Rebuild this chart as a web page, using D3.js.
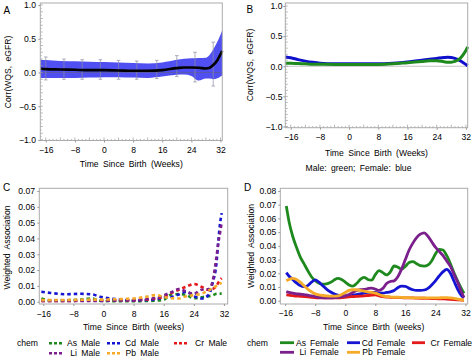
<!DOCTYPE html>
<html><head><meta charset="utf-8">
<script src="https://cdn.jsdelivr.net/npm/d3@7"></script>
<style>
body{margin:0;background:#fff}
svg{display:block}
text{font-family:"Liberation Sans",Arial,sans-serif;fill:#000}
</style>
</head><body>
<svg id="c" width="474" height="360"></svg>
<script>
// ---------- DATA ----------
const xTickLabels = [-16, -8, 0, 8, 16, 24, 32];
const corrTicks = [-1.0, -0.5, 0.0, 0.5, 1.0];
const assocTicksC = [0, 0.01, 0.02, 0.03, 0.04, 0.05, 0.06, 0.07];
const assocTicksD = [0, 0.01, 0.02, 0.03, 0.04, 0.05, 0.06, 0.07, 0.08];

// Panel A: overall correlation with band
const weeksA = [-17.5,-16,-12,-8,-4,0,4,8,12,16,20,22,24,26,28,29,30,31,32,32.5];
const meanA  = [0.055,0.05,0.045,0.04,0.035,0.035,0.03,0.025,0.025,0.035,0.065,0.075,0.075,0.07,0.06,0.07,0.11,0.17,0.27,0.32];
const upperA = [0.19,0.185,0.17,0.165,0.16,0.155,0.15,0.14,0.135,0.15,0.19,0.205,0.21,0.215,0.22,0.26,0.34,0.44,0.56,0.63];
const lowerA = [-0.08,-0.08,-0.08,-0.08,-0.075,-0.07,-0.07,-0.075,-0.08,-0.06,-0.035,-0.03,-0.05,-0.12,-0.09,-0.09,-0.1,-0.09,-0.06,-0.04];
const errWeeksA = [-16,-11,-6,-1,4,9,14.5,20,25,30];
const errHighA  = [0.23,0.2,0.19,0.19,0.18,0.17,0.18,0.25,0.3,0.45];
const errLowA   = [-0.11,-0.1,-0.1,-0.1,-0.1,-0.1,-0.09,-0.06,-0.14,-0.2];

// Panel B: by sex
const weeksB  = [-17.5,-16,-14,-12,-10,-8,-4,0,4,8,12,16,20,22,24,26,27,28,29,30,31,32,32.5];
const femaleB = [0.155,0.14,0.11,0.085,0.065,0.05,0.04,0.04,0.04,0.04,0.05,0.07,0.1,0.115,0.13,0.145,0.15,0.145,0.13,0.105,0.07,0.03,0.01];
const maleB   = [0.05,0.05,0.045,0.04,0.035,0.035,0.03,0.03,0.03,0.03,0.04,0.06,0.08,0.09,0.09,0.075,0.068,0.068,0.08,0.11,0.17,0.26,0.32];

// Panel C: male weighted associations
const weeksC = [-16.5,-14,-10,-6,-3,-1,2,5,8,11,14,16,18,20,22,24,26,28,29,30,30.5,31,31.4];
const asMale = [0.0021,0.0008,0.0009,0.0013,0.0021,0.0006,0.0004,0.0003,0.0003,0.0004,0.0007,0.0012,0.0045,0.0048,0.0042,0.0022,0.0028,0.0035,0.004,0.005,0.0051,0.0051,0.0051];
const cdMale = [0.0063,0.0055,0.0047,0.005,0.0046,0.0032,0.002,0.0012,0.0007,0.001,0.0015,0.0028,0.003,0.0045,0.0063,0.0035,0.002,0.0044,0.012,0.024,0.038,0.05,0.056];
const crMale = [0.0005,0.0005,0.0005,0.0006,0.0007,0.0008,0.0008,0.0009,0.001,0.0012,0.0022,0.003,0.0055,0.0075,0.0095,0.0112,0.0095,0.0075,0.008,0.01,0.012,0.0138,0.0148];
const liMale = [0.0005,0.0004,0.0004,0.0005,0.0005,0.0005,0.0006,0.0008,0.001,0.0015,0.0025,0.004,0.006,0.008,0.0065,0.005,0.0075,0.008,0.013,0.028,0.037,0.044,0.05];
const pbMale = [0.001,0.001,0.0011,0.0012,0.0013,0.0013,0.0015,0.0017,0.002,0.003,0.0042,0.003,0.0022,0.002,0.0035,0.0042,0.005,0.0072,0.0085,0.01,0.0108,0.0114,0.0118];

// Panel D: female weighted associations
const weeksD = [-15.7,-15,-14,-13,-12,-11,-10,-9,-8,-7,-6,-5,-4,-3,-2,-1,0,1,2,3,4,5,6,7,8,9,10,11,12,13,14,15,16,17,18,19,20,21,22,23,24,25,26,27,28,29,30,31,31.6];
const asFemale = [0.069,0.058,0.047,0.039,0.032,0.027,0.022,0.0175,0.0145,0.0127,0.012,0.0122,0.0132,0.015,0.0163,0.0155,0.0135,0.0115,0.0107,0.0125,0.0155,0.017,0.0155,0.015,0.019,0.022,0.0205,0.0188,0.021,0.0253,0.0245,0.023,0.025,0.0278,0.0285,0.027,0.0255,0.0252,0.026,0.029,0.034,0.0375,0.037,0.033,0.027,0.02,0.014,0.0085,0.0054];
const cdFemale = [0.0205,0.018,0.0155,0.013,0.011,0.0102,0.011,0.0135,0.0152,0.0135,0.011,0.0085,0.0065,0.005,0.004,0.0035,0.0035,0.0035,0.004,0.0045,0.005,0.0055,0.006,0.006,0.006,0.0055,0.0055,0.006,0.0065,0.0075,0.0095,0.0107,0.0105,0.009,0.008,0.0075,0.0075,0.0078,0.009,0.0115,0.0145,0.018,0.021,0.0228,0.02,0.014,0.008,0.0035,0.002];
const crFemale = [0.0042,0.004,0.0037,0.0034,0.0032,0.003,0.0028,0.0025,0.0022,0.002,0.002,0.002,0.002,0.002,0.002,0.0022,0.0025,0.0028,0.003,0.0032,0.0033,0.0035,0.0038,0.004,0.0042,0.0035,0.003,0.0027,0.0025,0.0023,0.0022,0.0022,0.002,0.002,0.002,0.0019,0.0018,0.0018,0.0017,0.0016,0.0015,0.0014,0.0013,0.0012,0.001,0.0008,0.0006,0.0004,0.0003];
const liFemale = [0.0066,0.006,0.0055,0.005,0.0048,0.0045,0.004,0.0035,0.003,0.0025,0.0022,0.002,0.002,0.0022,0.0025,0.003,0.0035,0.0045,0.006,0.0075,0.008,0.0082,0.0088,0.0092,0.0085,0.0075,0.009,0.0125,0.014,0.0145,0.0175,0.023,0.03,0.037,0.042,0.046,0.0485,0.0495,0.047,0.043,0.039,0.036,0.033,0.029,0.025,0.019,0.013,0.006,0.0025];
const pbFemale = [0.0145,0.0155,0.0163,0.0155,0.0135,0.011,0.0085,0.0065,0.005,0.0042,0.0038,0.0035,0.0033,0.0033,0.0035,0.0045,0.006,0.0075,0.008,0.008,0.0075,0.007,0.0065,0.006,0.0055,0.0045,0.0035,0.003,0.0028,0.0025,0.0025,0.0024,0.0023,0.0022,0.0021,0.002,0.002,0.002,0.002,0.002,0.002,0.0021,0.0022,0.0022,0.002,0.0017,0.0012,0.0007,0.0005];

const seriesC = [
  {name:"As Male", vals:asMale, color:"#1e8a1e"},
  {name:"Cd Male", vals:cdMale, color:"#1414d2"},
  {name:"Cr Male", vals:crMale, color:"#e41a1a"},
  {name:"Li Male", vals:liMale, color:"#7a1f8c"},
  {name:"Pb Male", vals:pbMale, color:"#f5aa28"}
];
const seriesD = [
  {name:"As Female", vals:asFemale, color:"#1e8a1e"},
  {name:"Cd Female", vals:cdFemale, color:"#1414d2"},
  {name:"Cr Female", vals:crFemale, color:"#e41a1a"},
  {name:"Li Female", vals:liFemale, color:"#7a1f8c"},
  {name:"Pb Female", vals:pbFemale, color:"#f5aa28"}
];

// ---------- DRAW ----------
const svg = d3.select("#c");
const FS = 8.6;
const LFS = 8.6;
const fmtX = d3.format("d");

function frameAxes(cfg, x, y) {
  const g = svg.append("g");
  if (cfg.minor) {
    const xm = d3.range(Math.ceil(x.domain()[0]), Math.floor(x.domain()[1]) + 1);
    g.selectAll(".mx").data(xm).join("line")
      .attr("x1", d => x(d)).attr("x2", d => x(d))
      .attr("y1", cfg.y1).attr("y2", d => cfg.y1 - (d % 4 === 0 ? 3 : 1.6))
      .attr("stroke", "#999").attr("stroke-width", 0.7);
    const ym = d3.range(-1, 1.0001, 0.05);
    g.selectAll(".my").data(ym).join("line")
      .attr("x1", cfg.x0).attr("x2", d => cfg.x0 + (Math.abs(Math.round(d*10) - d*10) < 1e-6 ? 2.5 : 1.4))
      .attr("y1", d => y(d)).attr("y2", d => y(d))
      .attr("stroke", "#999").attr("stroke-width", 0.7);
  }
  g.append("rect").attr("x", cfg.x0).attr("y", cfg.y0)
    .attr("width", cfg.x1 - cfg.x0).attr("height", cfg.y1 - cfg.y0)
    .attr("fill", "none").attr("stroke", "#ababab").attr("stroke-width", 1);

  const xa = g.append("g").attr("transform", `translate(0,${cfg.y1})`)
    .call(d3.axisBottom(x).tickValues(xTickLabels).tickFormat(fmtX).tickSize(2).tickPadding(cfg.xLabelC - cfg.y1 - 3.1 - 2));
  xa.select(".domain").remove();
  xa.selectAll("line").attr("stroke", "#999");
  xa.selectAll("text").attr("font-size", FS);
  xa.attr("font-family", null);

  const ya = g.append("g").attr("transform", `translate(${cfg.x0},0)`)
    .call(d3.axisLeft(y).tickValues(cfg.yTicks).tickFormat(cfg.yFmt).tickSize(2).tickPadding(cfg.x0 - cfg.yLabelEnd - 2));
  ya.select(".domain").remove();
  ya.selectAll("line").attr("stroke", "#999");
  ya.selectAll("text").attr("font-size", FS);
  ya.attr("font-family", null);

  svg.append("text").attr("x", cfg.xTitle[0]).attr("y", cfg.xTitle[1]).attr("dy", "0.35em")
    .attr("text-anchor", "middle").attr("font-size", FS).attr("word-spacing", 2)
    .text(cfg.xTitleText);
  svg.append("text").attr("transform", `translate(${cfg.yTitle[0]},${cfg.yTitle[1]}) rotate(-90)`)
    .attr("dy", "0.35em").attr("text-anchor", "middle").attr("font-size", FS).attr("word-spacing", 2)
    .text(cfg.yTitleText);
  svg.append("text").attr("x", cfg.letter[0]).attr("y", cfg.letter[1]).attr("dy", "0.35em")
    .attr("font-size", 10).text(cfg.letterText);
}

// Panel A
(function(){
  const cfg = {x0:40.3, x1:222.3, y0:3, y1:140.5, xLabelC:150, yLabelEnd:36,
    xTitle:[131.3,164], yTitle:[7.5,72], letter:[3.5,10], letterText:"A",
    xTitleText:"Time Since Birth (Weeks)", yTitleText:"Corr(WQS, eGFR)",
    yTicks:corrTicks, yFmt:d3.format(".1f"), minor:true};
  const x = d3.scaleLinear().domain([-17.5, 32.5]).range([cfg.x0, cfg.x1]);
  const y = d3.scaleLinear().domain([-1, 1]).range([140, 5]);
  const idx = d3.range(weeksA.length);
  svg.append("path").datum(idx)
    .attr("d", d3.area().curve(d3.curveMonotoneX).x(i => x(weeksA[i])).y0(i => y(lowerA[i])).y1(i => y(upperA[i])))
    .attr("fill", "#4f4ff2");
  svg.append("line").attr("x1", cfg.x0).attr("x2", cfg.x1).attr("y1", y(0)).attr("y2", y(0))
    .attr("stroke", "#5a5aa0").attr("stroke-width", 0.8);
  const eb = svg.append("g").attr("stroke", "#8c8ca0").attr("stroke-width", 0.7);
  errWeeksA.forEach((w, i) => {
    eb.append("line").attr("x1", x(w)).attr("x2", x(w)).attr("y1", y(errLowA[i])).attr("y2", y(errHighA[i]));
    eb.append("line").attr("x1", x(w) - 1.8).attr("x2", x(w) + 1.8).attr("y1", y(errLowA[i])).attr("y2", y(errLowA[i]));
    eb.append("line").attr("x1", x(w) - 1.8).attr("x2", x(w) + 1.8).attr("y1", y(errHighA[i])).attr("y2", y(errHighA[i]));
  });
  svg.append("path").datum(idx)
    .attr("d", d3.line().curve(d3.curveMonotoneX).x(i => x(weeksA[i])).y(i => y(meanA[i])))
    .attr("fill", "none").attr("stroke", "#000").attr("stroke-width", 2.6);
  frameAxes(cfg, x, y);
})();

// Panel B
(function(){
  const cfg = {x0:285.3, x1:467.7, y0:3, y1:127.7, xLabelC:137.3, yLabelEnd:282.5,
    xTitle:[376.5,153.3], yTitle:[250,65], letter:[246.5,9.3], letterText:"B",
    xTitleText:"Time Since Birth (Weeks)", yTitleText:"Corr(WQS, eGFR)",
    yTicks:corrTicks, yFmt:d3.format(".1f"), minor:true};
  const x = d3.scaleLinear().domain([-17.5, 32.5]).range([cfg.x0, cfg.x1]);
  const y = d3.scaleLinear().domain([-1, 1]).range([126.5, 6]);
  svg.append("line").attr("x1", cfg.x0).attr("x2", cfg.x1).attr("y1", y(0)).attr("y2", y(0))
    .attr("stroke", "#b5b5b5").attr("stroke-width", 0.8);
  const idx = d3.range(weeksB.length);
  [[femaleB, "#1010cc"], [maleB, "#1e8a1e"]].forEach(([vals, col]) => {
    svg.append("path").datum(idx)
      .attr("d", d3.line().curve(d3.curveMonotoneX).x(i => x(weeksB[i])).y(i => y(vals[i])))
      .attr("fill", "none").attr("stroke", col).attr("stroke-width", 3);
  });
  frameAxes(cfg, x, y);
  svg.append("text").attr("x", 358.5).attr("y", 167.7).attr("dy", "0.35em")
    .attr("text-anchor", "middle").attr("font-size", FS).attr("word-spacing", 2)
    .text("Male: green; Female: blue");
})();

// Panel C
(function(){
  const cfg = {x0:39.3, x1:227.7, y0:188.3, y1:304, xLabelC:314.3, yLabelEnd:35,
    xTitle:[133.5,326.7], yTitle:[7.3,247.5], letter:[3,187.3], letterText:"C",
    xTitleText:"Time Since Birth (weeks)", yTitleText:"Weighted Association",
    yTicks:assocTicksC, yFmt:d3.format(".2f"), minor:false};
  const x = d3.scaleLinear().domain([-17.05, 33]).range([cfg.x0, cfg.x1]);
  const y = d3.scaleLinear().domain([0, 0.07]).range([301.7, 191]);
  const idx = d3.range(weeksC.length);
  seriesC.forEach(s => {
    svg.append("path").datum(idx)
      .attr("d", d3.line().curve(d3.curveMonotoneX).x(i => x(weeksC[i])).y(i => y(s.vals[i])))
      .attr("fill", "none").attr("stroke", s.color).attr("stroke-width", 2.6)
      .attr("stroke-dasharray", "3.5,3");
  });
  frameAxes(cfg, x, y);
  const lg = svg.append("g");
  lg.append("text").attr("x", 17).attr("y", 343.3).attr("dy", "0.35em").attr("font-size", LFS).text("chem");
  const pos = [[49,62,100,343.3,"end"],[107,122,159,343.3,"end"],[174,189,195,343.3,"start"],[49,62,100,353.3,"end"],[107,122,159,353.3,"end"]];
  seriesC.forEach((s, i) => {
    const p = pos[i];
    lg.append("line").attr("x1", p[0]).attr("x2", p[1]).attr("y1", p[3]).attr("y2", p[3])
      .attr("stroke", s.color).attr("stroke-width", 2.6).attr("stroke-dasharray", "3,2");
    lg.append("text").attr("x", p[2]).attr("y", p[3]).attr("dy", "0.35em").attr("text-anchor", p[4])
      .attr("font-size", LFS).attr("word-spacing", 2).text(s.name);
  });
})();

// Panel D
(function(){
  const cfg = {x0:280.3, x1:467.7, y0:188.3, y1:304, xLabelC:312.7, yLabelEnd:276.3,
    xTitle:[373.7,326.7], yTitle:[251,246], letter:[244,187.3], letterText:"D",
    xTitleText:"Time Since Birth (weeks)", yTitleText:"Weighted Association",
    yTicks:assocTicksD, yFmt:d3.format(".2f"), minor:false};
  const x = d3.scaleLinear().domain([-17.3, 32.6]).range([cfg.x0, cfg.x1]);
  const y = d3.scaleLinear().domain([0, 0.08]).range([300.7, 191]);
  const idx = d3.range(weeksD.length);
  seriesD.forEach(s => {
    svg.append("path").datum(idx)
      .attr("d", d3.line().curve(d3.curveMonotoneX).x(i => x(weeksD[i])).y(i => y(s.vals[i])))
      .attr("fill", "none").attr("stroke", s.color).attr("stroke-width", 2.8)
      .attr("stroke-linejoin", "round");
  });
  frameAxes(cfg, x, y);
  const lg = svg.append("g");
  lg.append("text").attr("x", 247).attr("y", 342.7).attr("dy", "0.35em").attr("font-size", LFS).text("chem");
  const pos = [[280,294,338.7,342.7,"end"],[347,360,405.3,342.7,"end"],[412,425,430.5,342.7,"start"],[280,294,338.7,352.3,"end"],[347,360,405.3,352.3,"end"]];
  seriesD.forEach((s, i) => {
    const p = pos[i];
    lg.append("line").attr("x1", p[0]).attr("x2", p[1]).attr("y1", p[3]).attr("y2", p[3])
      .attr("stroke", s.color).attr("stroke-width", 2.8);
    lg.append("text").attr("x", p[2]).attr("y", p[3]).attr("dy", "0.35em").attr("text-anchor", p[4])
      .attr("font-size", LFS).attr("word-spacing", 1.5).text(s.name);
  });
})();
</script>
</body></html>
